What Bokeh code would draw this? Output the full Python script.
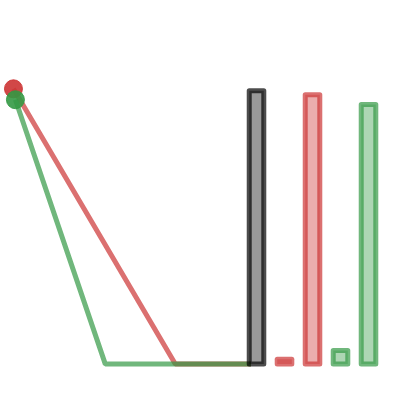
from bokeh.plotting import figure
from bokeh.models import Range1d
from bokeh.embed import file_html
from bokeh.resources import INLINE

# line series (x in bar-slot units, y in percent of the tallest bar)
red_x = [0.32, 6.1, 8.8]
red_y = [100.7, 0, 0]
green_x = [0.39, 3.6, 8.8]
green_y = [96.7, 0, 0]

# bars
bar_x = [9, 10, 11, 12, 13]
bar_top = [100, 1.8, 98.5, 5, 95]
bar_colors = ["#000000", "#cc3333", "#cc3333", "#339944", "#339944"]

p = figure(width=384, height=384, output_backend="svg", toolbar_location=None,
           x_range=Range1d(-0.143, 13.571), y_range=Range1d(-7.47, 133.0),
           min_border=0)
p.axis.visible = False
p.grid.visible = False
p.outline_line_color = None

p.line(red_x, red_y, line_color="#cc3333", line_alpha=0.7, line_width=5)
p.line(green_x, green_y, line_color="#339944", line_alpha=0.7, line_width=5)
p.scatter([red_x[0]], [red_y[0]], size=18, color="#cc3333", alpha=0.9)
p.scatter([green_x[0]], [green_y[0]], size=18, color="#339944", alpha=0.9)

p.vbar(x=bar_x, top=bar_top, bottom=0, width=0.52,
       fill_color=bar_colors, fill_alpha=0.4,
       line_color=bar_colors, line_alpha=0.7, line_width=5, line_join="round")

open("out.html", "w").write(file_html(p, INLINE))
